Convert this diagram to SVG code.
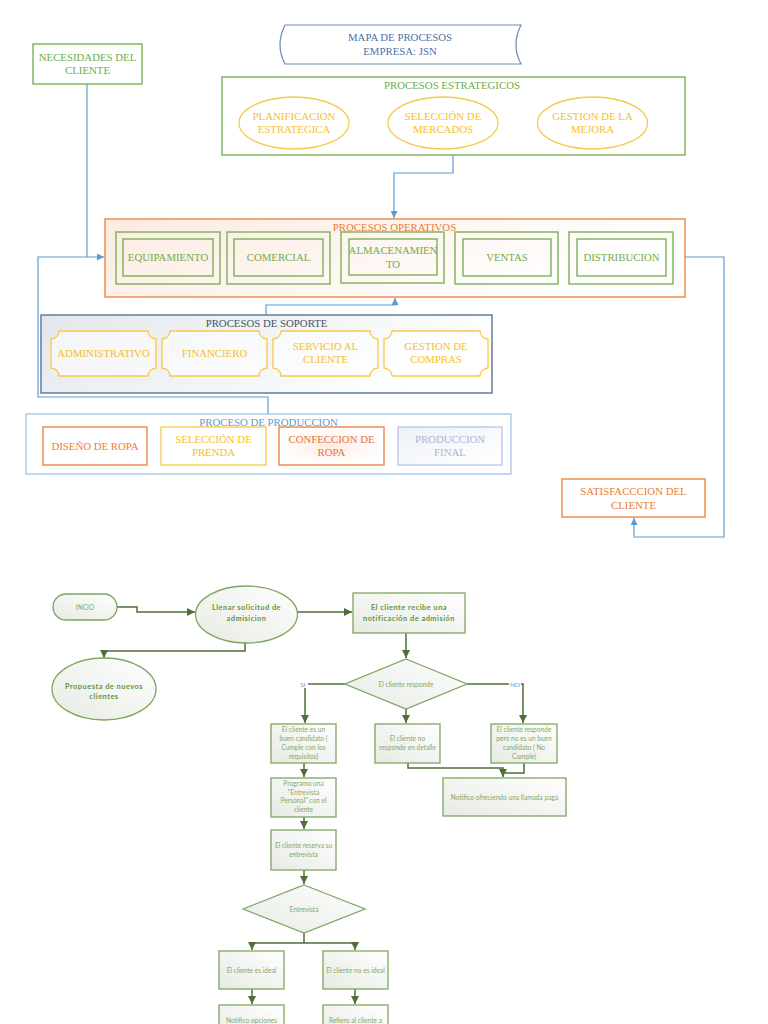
<svg xmlns="http://www.w3.org/2000/svg" width="768" height="1024" viewBox="0 0 768 1024">
<defs>
<style>
.serif{font-family:"Liberation Serif","Times New Roman",serif;font-size:10.8px;text-anchor:middle}
.g{fill:#70ad47}.y{fill:#f5bf2a}.o{fill:#ed7d31}.b{fill:#4a72aa}
.gbox{fill:none;stroke:#70ad47;stroke-width:1.3}
.ybox{fill:none;stroke:#f7c948;stroke-width:1.3}
.pbox{fill:#ffffff;fill-opacity:0.55;stroke:#f7c948;stroke-width:1.3}
.obox{fill:#fff;stroke:#ed7d31;stroke-width:1.3}
.bc{fill:none;stroke:#5b9bd5;stroke-width:1.2}
.fc{fill:none;stroke:#4f6f3a;stroke-width:1.5}
.fbox{fill:url(#fg);stroke:#7ea65e;stroke-width:1.3}
.ft{font-family:Lato,"Liberation Sans",sans-serif;font-size:6.6px;fill:#86a76a;text-anchor:middle}
.fb{font-family:Lato,"Liberation Sans",sans-serif;font-size:7.4px;font-weight:bold;fill:#66923f;text-anchor:middle;letter-spacing:0.5px}
.lbl{font-family:Lato,"Liberation Sans",sans-serif;font-size:6.5px;fill:#5b9bd5;text-anchor:middle}
</style>
<marker id="ab" viewBox="0 0 10 10" refX="10" refY="5" markerWidth="7" markerHeight="7" orient="auto" markerUnits="userSpaceOnUse"><path d="M0,0 L10,5 L0,10 z" fill="#5b9bd5"/></marker>
<marker id="ag" viewBox="0 0 10 10" refX="10" refY="5" markerWidth="8" markerHeight="8" orient="auto" markerUnits="userSpaceOnUse"><path d="M0,0 L10,5 L0,10 z" fill="#4f6f3a"/></marker>
<linearGradient id="pg" x1="0" y1="0" x2="1" y2="0.3"><stop offset="0" stop-color="#fcebe2"/><stop offset="0.6" stop-color="#fef7f4"/><stop offset="1" stop-color="#ffffff"/></linearGradient>
<linearGradient id="sg" x1="0" y1="0" x2="1" y2="0.3"><stop offset="0" stop-color="#e3e7ed"/><stop offset="0.7" stop-color="#f6f7f9"/><stop offset="1" stop-color="#ffffff"/></linearGradient>
<radialGradient id="cg"><stop offset="0" stop-color="#fdebe2"/><stop offset="1" stop-color="#ffffff"/></radialGradient>
<linearGradient id="blg" x1="0" y1="0" x2="1" y2="1"><stop offset="0" stop-color="#edf1f8"/><stop offset="1" stop-color="#ffffff"/></linearGradient>
<linearGradient id="fg" x1="0" y1="1" x2="1" y2="0"><stop offset="0" stop-color="#e6eae3"/><stop offset="1" stop-color="#ffffff"/></linearGradient>
</defs>
<rect width="768" height="1024" fill="#fff"/>

<g id="connectors">
<path class="bc" d="M87,84 V257"/>
<path class="bc" d="M268,414 V397 H38 V257 H104" marker-end="url(#ab)"/>
<path class="bc" d="M453,155 V173 H394 V218" marker-end="url(#ab)"/>
<path class="bc" d="M266,315 V305 H395 V298" marker-end="url(#ab)"/>
<path class="bc" d="M673,257 H724 V537 H634 V518" marker-end="url(#ab)"/>
<path class="fc" d="M117,607 H137 V612 H195" marker-end="url(#ag)"/>
<path class="fc" d="M297,612 H352" marker-end="url(#ag)"/>
<path class="fc" d="M406,633 V658" marker-end="url(#ag)"/>
<path class="fc" d="M245,643 V651 H104 V658" marker-end="url(#ag)"/>
<path class="fc" d="M345,684 H305 V723" marker-end="url(#ag)"/>
<path class="fc" d="M467,684 H523 V723" marker-end="url(#ag)"/>
<path class="fc" d="M406,709 V723" marker-end="url(#ag)"/>
<path class="fc" d="M304,763 V777" marker-end="url(#ag)"/>
<path class="fc" d="M304,817 V829" marker-end="url(#ag)"/>
<path class="fc" d="M304,870 V884" marker-end="url(#ag)"/>
<path class="fc" d="M408,763 V768 H503 V777" marker-end="url(#ag)"/>
<path class="fc" d="M524,763 V773 H503"/>
<path class="fc" d="M304,933 V943 M252,943 H355"/>
<path class="fc" d="M252,943 V950" marker-end="url(#ag)"/>
<path class="fc" d="M355,943 V950" marker-end="url(#ag)"/>
<path class="fc" d="M252,989 V1004" marker-end="url(#ag)"/>
<path class="fc" d="M355,989 V1004" marker-end="url(#ag)"/>
<rect x="298" y="680" width="10" height="8" fill="#fff"/>
<text class="lbl" x="303" y="686.5">SI</text>
<rect x="509" y="680" width="12" height="8" fill="#fff"/>
<text class="lbl" x="515" y="686.5">NO</text>
</g>

<g id="necesidades">
<rect x="33" y="44" width="109" height="40" class="gbox"/>
<text class="serif g" x="87.5" y="61">NECESIDADES DEL</text>
<text class="serif g" x="87.5" y="74">CLIENTE</text>
</g>

<g id="titulo">
<path d="M285,25 H521 Q511,45 521,64 H285 Q275,45 285,25 Z" fill="#fff" stroke="#6a8bb3" stroke-width="1.2"/>
<text class="serif b" x="400" y="41">MAPA DE PROCESOS</text>
<text class="serif b" x="400" y="55">EMPRESA: JSN</text>
</g>

<g id="estrategicos">
<rect x="222" y="77" width="463" height="78" class="gbox"/>
<text class="serif g" x="452" y="89">PROCESOS ESTRATEGICOS</text>
<g id="planificacion"><ellipse cx="294" cy="123" rx="55" ry="26" class="ybox"/>
<text class="serif y" x="294" y="120">PLANIFICACION</text><text class="serif y" x="294" y="133">ESTRATEGICA</text></g>
<g id="seleccion-mercados"><ellipse cx="443" cy="123" rx="55" ry="26" class="ybox"/>
<text class="serif y" x="443" y="120">SELECCIÓN DE</text><text class="serif y" x="443" y="133">MERCADOS</text></g>
<g id="gestion-mejora"><ellipse cx="592.5" cy="123" rx="55" ry="26" class="ybox"/>
<text class="serif y" x="592.5" y="120">GESTION DE LA</text><text class="serif y" x="592.5" y="133">MEJORA</text></g>
</g>

<g id="operativos">
<rect x="105" y="219" width="580" height="78" fill="url(#pg)" stroke="#ed7d31" stroke-width="1.3"/>
<text class="serif o" x="394.5" y="231">PROCESOS OPERATIVOS</text>
<g id="equipamiento"><rect x="116" y="232" width="104" height="52" class="gbox"/><rect x="123" y="239" width="90" height="37" class="gbox"/>
<text class="serif g" x="168" y="261">EQUIPAMIENTO</text></g>
<g id="comercial"><rect x="227" y="232" width="103" height="52" class="gbox"/><rect x="234" y="239" width="89" height="37" class="gbox"/>
<text class="serif g" x="278.5" y="261">COMERCIAL</text></g>
<g id="almacenamiento"><rect x="341" y="232" width="103" height="51" class="gbox"/><rect x="349" y="239" width="88" height="36" class="gbox"/>
<text class="serif g" x="393" y="254">ALMACENAMIEN</text><text class="serif g" x="393" y="268">TO</text></g>
<g id="ventas"><rect x="455" y="232" width="103" height="52" class="gbox"/><rect x="463" y="239" width="88" height="37" class="gbox"/>
<text class="serif g" x="507" y="261">VENTAS</text></g>
<g id="distribucion"><rect x="569" y="232" width="104" height="52" class="gbox"/><rect x="577" y="239" width="89" height="37" class="gbox"/>
<text class="serif g" x="621.5" y="261">DISTRIBUCION</text></g>
</g>

<g id="soporte">
<rect x="41" y="315" width="451" height="78" fill="url(#sg)" stroke="#5a7394" stroke-width="1.4"/>
<text class="serif" x="266.5" y="327" fill="#44546a">PROCESOS DE SOPORTE</text>
<g id="administrativo"><path d="M59,331 H148 A8,8 0 0 0 156,339 V368 A8,8 0 0 0 148,376 H59 A8,8 0 0 0 51,368 V339 A8,8 0 0 0 59,331 Z" class="pbox"/>
<text class="serif y" x="103.5" y="357">ADMINISTRATIVO</text></g>
<g id="financiero"><path d="M170,331 H259 A8,8 0 0 0 267,339 V368 A8,8 0 0 0 259,376 H170 A8,8 0 0 0 162,368 V339 A8,8 0 0 0 170,331 Z" class="pbox"/>
<text class="serif y" x="214.5" y="357">FINANCIERO</text></g>
<g id="servicio"><path d="M281,331 H370 A8,8 0 0 0 378,339 V368 A8,8 0 0 0 370,376 H281 A8,8 0 0 0 273,368 V339 A8,8 0 0 0 281,331 Z" class="pbox"/>
<text class="serif y" x="325.5" y="350">SERVICIO AL</text><text class="serif y" x="325.5" y="363">CLIENTE</text></g>
<g id="gestion-compras"><path d="M392,331 H480 A8,8 0 0 0 488,339 V368 A8,8 0 0 0 480,376 H392 A8,8 0 0 0 384,368 V339 A8,8 0 0 0 392,331 Z" class="pbox"/>
<text class="serif y" x="436" y="350">GESTION DE</text><text class="serif y" x="436" y="363">COMPRAS</text></g>
</g>

<g id="produccion">
<rect x="26" y="414" width="485" height="60" fill="#fff" stroke="#9dc3e6" stroke-width="1.3"/>
<text class="serif" x="268.5" y="426" fill="#5b9bd5">PROCESO DE PRODUCCION</text>
<g id="diseno"><rect x="43" y="427" width="104" height="38" class="obox"/>
<text class="serif o" x="95" y="450">DISEÑO DE ROPA</text></g>
<g id="seleccion-prenda"><rect x="161" y="427" width="105" height="38" fill="#fff" stroke="#f7c948" stroke-width="1.3"/>
<text class="serif y" x="213.5" y="443">SELECCIÓN DE</text><text class="serif y" x="213.5" y="456">PRENDA</text></g>
<g id="confeccion"><rect x="279" y="427" width="105" height="38" fill="url(#cg)" stroke="#ed7d31" stroke-width="1.3"/>
<text class="serif" fill="#e5733f" x="331.5" y="443">CONFECCION DE</text><text class="serif" fill="#e5733f" x="331.5" y="456">ROPA</text></g>
<g id="produccion-final"><rect x="398" y="427" width="104" height="38" fill="url(#blg)" stroke="#b4c7e7" stroke-width="1.3"/>
<text class="serif" fill="#a9b8d0" x="450" y="443">PRODUCCION</text><text class="serif" fill="#a9b8d0" x="450" y="456">FINAL</text></g>
</g>

<g id="satisfaccion">
<rect x="562" y="479" width="143" height="38" class="obox"/>
<text class="serif o" x="633.5" y="495">SATISFACCCION DEL</text>
<text class="serif o" x="633.5" y="509">CLIENTE</text>
</g>

<g id="inicio"><rect x="53" y="594" width="64" height="26" rx="13" class="fbox"/>
<text class="ft" x="85" y="609.5">INCIO</text></g>
<g id="llenar"><ellipse cx="246.5" cy="614.5" rx="51" ry="28.5" class="fbox"/>
<text class="fb" x="246.5" y="610">Llenar solicitud de</text><text class="fb" x="246.5" y="621">admisicion</text></g>
<g id="recibe"><rect x="353" y="593" width="112" height="40" class="fbox"/>
<text class="fb" x="409" y="610">El cliente recibe una</text><text class="fb" x="409" y="620.5">notificación de admisión</text></g>
<g id="propuesta"><ellipse cx="104" cy="689" rx="52" ry="31" class="fbox"/>
<text class="fb" x="104" y="688.5">Propuesta de nuevos</text><text class="fb" x="104" y="699">clientes</text></g>
<g id="responde"><path d="M406,659 L467,684 L406,709 L345,684 Z" class="fbox"/>
<text class="ft" x="406" y="686.5">El cliente responde</text></g>
<g id="buen-candidato"><rect x="271" y="724" width="65" height="39" class="fbox"/>
<text class="ft" x="303.5" y="732">El cliente es un</text><text class="ft" x="303.5" y="741">buen candidato (</text><text class="ft" x="303.5" y="750">Cumple con los</text><text class="ft" x="303.5" y="758.5">requisitos)</text></g>
<g id="no-responde"><rect x="375" y="724" width="65" height="39" class="fbox"/>
<text class="ft" x="407.5" y="741">El cliente no</text><text class="ft" x="407.5" y="750">responde en detalle</text></g>
<g id="no-cumple"><rect x="491" y="724" width="66" height="39" class="fbox"/>
<text class="ft" x="524" y="732">El cliente responde</text><text class="ft" x="524" y="741">pero no es un buen</text><text class="ft" x="524" y="750">candidato ( No</text><text class="ft" x="524" y="759">Cumple)</text></g>
<g id="programo"><rect x="271" y="778" width="65" height="39" class="fbox"/>
<text class="ft" x="303.5" y="785.5">Programo una</text><text class="ft" x="303.5" y="794.5">"Entrevista</text><text class="ft" x="303.5" y="803">Personal" con el</text><text class="ft" x="303.5" y="811.5">cliente</text></g>
<g id="llamada"><rect x="443" y="778" width="123" height="38" class="fbox"/>
<text class="ft" x="504.5" y="799.5">Notifico ofreciendo una llamada paga</text></g>
<g id="reserva"><rect x="271" y="830" width="65" height="40" class="fbox"/>
<text class="ft" x="303.5" y="848">El cliente reserva su</text><text class="ft" x="303.5" y="856.5">entrevista</text></g>
<g id="entrevista"><path d="M304,885 L365,909 L304,933 L243,909 Z" class="fbox"/>
<text class="ft" x="304" y="911.5">Entrevista</text></g>
<g id="ideal"><rect x="219" y="951" width="65" height="38" class="fbox"/>
<text class="ft" x="251.5" y="972.5">El cliente es ideal</text></g>
<g id="no-ideal"><rect x="323" y="951" width="65" height="38" class="fbox"/>
<text class="ft" x="355.5" y="972.5">El cliente no es ideal</text></g>
<g id="opciones"><rect x="219" y="1005" width="65" height="38" class="fbox"/>
<text class="ft" x="251.5" y="1023">Notifico opciones</text></g>
<g id="refiero"><rect x="323" y="1005" width="65" height="38" class="fbox"/>
<text class="ft" x="355.5" y="1023">Refiero al cliente a</text></g>
</svg>
